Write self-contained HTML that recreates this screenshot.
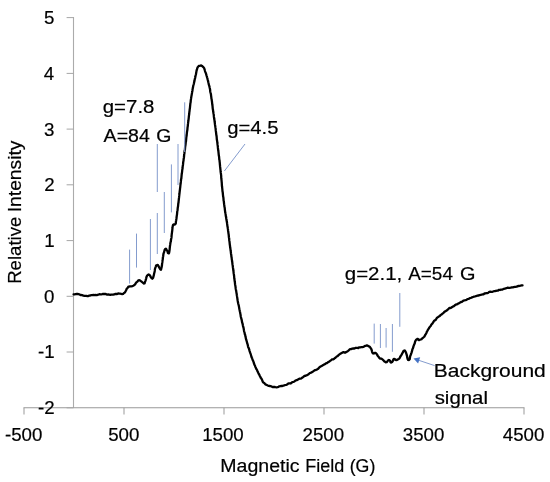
<!DOCTYPE html>
<html><head><meta charset="utf-8"><title>EPR spectrum</title>
<style>
html,body{margin:0;padding:0;background:#fff;}
svg{display:block;}
text{font-family:"Liberation Sans",sans-serif;fill:#000;}
</style></head><body>
<svg width="550" height="482" viewBox="0 0 550 482">
<rect width="550" height="482" fill="#fff"/>
<g fill="none">
<path d="M73.5 17.1V407.8" stroke="#ababab" stroke-width="1.1"/>
<path d="M23.5 407.8H524.5" stroke="#999" stroke-width="1.1"/>
<path d="M66.6 17.6H73.5M66.6 73.4H73.5M66.6 129.1H73.5M66.6 184.8H73.5M66.6 240.6H73.5M66.6 296.3H73.5M66.6 352.0H73.5M66.6 407.8H73.5" stroke="#a6a6a6" stroke-width="1"/>
<path d="M24 407.8V414.5M124 407.8V414.5M224 407.8V414.5M324 407.8V414.5M424 407.8V414.5M524 407.8V414.5" stroke="#999" stroke-width="1"/>
</g>
<path d="M73.6 294.4L74.6 294.3L75.6 294.1L76.6 294.0L77.6 294.0L78.6 294.1L79.6 294.5L80.5 295.0L81.5 295.0L82.4 295.2L83.4 295.7L84.4 295.9L85.4 295.9L86.4 295.8L87.4 296.1L88.4 296.1L89.3 295.6L90.3 295.5L91.3 295.2L92.3 295.2L93.3 295.0L94.3 295.2L95.3 295.0L96.3 295.1L97.3 295.0L98.3 294.7L99.3 294.2L100.3 294.4L101.3 294.4L102.2 294.2L103.2 293.9L104.2 294.0L105.2 293.9L106.2 294.2L107.2 294.7L108.2 294.5L109.2 294.7L110.2 294.9L111.2 294.6L112.2 294.6L113.2 294.6L114.2 294.4L115.1 293.9L116.1 294.0L117.1 294.0L118.1 293.4L119.1 293.7L120.1 293.7L121.1 293.8L122.1 294.2L123.1 293.9L123.9 293.0L124.7 292.7L125.2 291.9L125.7 291.0L126.1 290.2L126.5 289.2L127.0 288.5L127.7 287.8L128.4 286.7L129.3 286.5L130.3 286.4L131.3 286.3L132.3 286.1L133.2 285.7L134.0 285.3L134.7 284.8L135.3 284.1L136.0 282.8L136.7 282.1L137.4 281.6L138.1 280.6L138.9 280.2L139.9 280.4L140.8 281.1L141.6 281.7L142.2 282.2L143.0 282.8L143.7 283.5L144.6 283.4L144.9 282.1L145.3 281.2L145.6 280.3L145.9 279.3L146.2 278.3L146.4 277.1L146.8 276.4L147.2 275.5L147.7 275.0L148.6 274.5L149.4 274.8L150.0 275.6L150.5 276.4L151.0 277.4L151.6 278.1L152.3 278.7L153.0 278.0L153.3 277.2L153.6 275.9L153.9 274.9L154.0 274.2L154.2 273.2L154.4 272.5L154.6 271.9L154.8 270.4L154.9 269.3L155.1 268.5L155.4 267.6L155.8 266.6L156.1 265.6L156.8 265.2L157.8 265.0L158.2 265.6L158.8 266.6L159.2 267.5L159.6 268.2L160.2 269.2L161.0 269.7L161.2 269.0L161.4 268.0L161.7 266.9L161.9 265.8L162.0 264.8L162.1 263.5L162.3 262.7L162.4 261.9L162.5 260.6L162.7 260.0L162.8 258.7L162.9 258.0L163.0 256.9L163.2 256.2L163.3 255.0L163.5 253.8L163.6 253.3L164.0 252.5L164.3 251.2L164.6 250.1L165.0 249.3L165.9 248.7L166.5 249.7L166.9 250.3L167.4 251.2L167.7 252.1L167.9 253.0L168.8 253.4L169.1 252.9L169.3 251.8L169.4 251.0L169.6 249.8L169.7 248.6L169.8 247.7L169.9 246.7L170.0 245.8L170.2 244.7L170.3 243.7L170.5 242.5L170.7 241.7L170.9 241.2L171.0 239.8L171.2 238.7L171.4 238.0L171.5 237.2L171.6 235.7L171.7 234.8L171.8 233.7L172.0 232.6L172.0 232.0L172.2 231.0L172.3 229.9L172.4 228.8L172.5 228.0L172.6 226.9L172.8 225.9L173.1 224.8L173.7 224.3L174.6 224.7L175.3 224.1L175.8 223.3L175.9 222.2L176.0 221.1L176.2 220.2L176.3 219.4L176.5 218.2L176.6 217.2L176.7 216.3L176.8 215.6L177.0 214.5L177.1 213.4L177.2 212.2L177.3 211.1L177.5 210.5L177.6 209.6L177.7 208.4L177.8 207.5L178.0 206.6L178.1 205.6L178.2 204.6L178.3 203.4L178.5 202.6L178.6 201.3L178.7 200.6L178.8 199.6L178.9 198.7L179.0 197.9L179.1 196.8L179.3 195.2L179.4 194.1L179.5 193.5L179.6 192.3L179.7 191.5L179.8 190.6L180.0 189.1L180.1 188.0L180.2 187.5L180.3 186.5L180.4 185.5L180.5 184.5L180.7 183.3L180.8 182.2L180.9 181.4L181.0 180.3L181.1 179.2L181.3 178.6L181.4 177.6L181.5 176.6L181.6 175.4L181.7 174.4L181.9 173.3L182.0 172.4L182.1 171.6L182.2 170.5L182.3 169.7L182.5 168.8L182.6 168.0L182.7 166.5L182.8 165.8L183.0 164.7L183.1 163.6L183.2 162.4L183.3 161.6L183.5 160.8L183.6 159.7L183.7 158.7L183.9 157.7L184.0 157.0L184.1 155.7L184.2 154.3L184.4 153.4L184.5 152.2L184.6 151.0L184.7 150.6L184.9 150.0L185.0 148.8L185.1 147.5L185.2 146.6L185.3 146.0L185.5 144.9L185.6 143.9L185.7 142.8L185.8 141.9L186.0 141.1L186.1 140.0L186.2 138.9L186.3 137.7L186.4 136.9L186.6 135.8L186.7 135.0L186.8 133.7L186.9 132.8L187.0 131.9L187.2 130.7L187.3 130.3L187.4 129.3L187.5 128.0L187.6 127.1L187.8 126.0L187.9 124.5L188.0 123.9L188.1 123.0L188.2 122.0L188.4 120.8L188.5 119.9L188.6 119.0L188.7 118.3L188.8 117.2L188.9 116.1L189.0 115.3L189.2 114.0L189.3 112.9L189.4 111.7L189.5 111.4L189.6 110.4L189.7 109.3L189.9 108.3L190.0 107.2L190.1 106.1L190.2 105.1L190.3 104.1L190.4 103.2L190.6 102.5L190.7 101.3L190.8 100.1L191.0 99.0L191.1 98.1L191.2 97.5L191.4 96.4L191.6 95.2L191.8 94.1L192.0 93.0L192.1 92.2L192.3 91.4L192.5 90.2L192.6 89.2L192.8 88.3L193.0 87.3L193.2 86.0L193.4 85.2L193.7 84.3L193.9 83.5L194.1 82.4L194.3 81.6L194.5 80.8L194.7 79.5L195.0 78.4L195.2 77.6L195.4 76.6L195.6 75.4L195.8 74.8L196.0 74.1L196.2 72.7L196.4 71.6L196.6 70.5L196.9 69.7L197.2 68.5L197.5 67.6L197.8 67.1L198.6 66.1L199.2 65.8L200.2 65.8L201.2 65.4L202.0 65.9L202.8 66.7L203.4 67.1L203.9 67.8L204.3 68.6L204.7 69.8L205.0 71.1L205.3 71.9L205.6 72.5L205.9 73.4L206.2 74.4L206.5 75.5L206.8 76.4L207.1 77.5L207.4 78.4L207.6 79.3L207.9 80.3L208.1 81.3L208.3 82.3L208.6 83.4L208.8 84.6L209.1 85.4L209.3 86.1L209.5 86.8L209.7 88.0L209.9 88.6L210.1 89.7L210.2 91.2L210.4 92.2L210.6 92.9L210.8 93.6L211.0 94.8L211.1 95.8L211.3 97.2L211.4 98.5L211.6 99.1L211.7 99.7L211.8 100.6L212.0 101.8L212.1 102.8L212.2 103.7L212.3 104.8L212.5 105.7L212.6 107.1L212.7 108.2L212.8 109.1L213.0 109.8L213.1 110.9L213.2 111.8L213.4 112.7L213.5 113.7L213.7 114.4L213.8 115.5L213.9 116.9L214.1 117.8L214.2 118.8L214.4 119.9L214.5 120.4L214.6 121.5L214.8 122.7L214.9 123.8L215.0 124.7L215.2 125.9L215.3 126.7L215.4 127.4L215.6 128.5L215.7 129.8L215.8 130.7L215.9 131.3L216.1 132.9L216.2 133.9L216.3 134.9L216.5 135.6L216.6 136.5L216.7 137.5L216.8 139.1L216.9 139.7L217.1 140.9L217.2 141.5L217.3 142.5L217.4 143.2L217.5 144.4L217.7 145.7L217.8 146.4L217.9 147.7L218.0 148.6L218.1 149.3L218.2 150.3L218.4 151.4L218.5 152.4L218.6 153.3L218.7 154.3L218.8 155.3L219.0 156.2L219.1 157.1L219.2 158.4L219.3 159.6L219.5 160.2L219.6 161.3L219.7 162.2L219.8 163.2L219.9 164.5L220.0 165.4L220.1 166.7L220.2 167.3L220.3 168.4L220.4 169.3L220.5 170.2L220.6 171.5L220.7 172.4L220.9 173.5L221.0 174.3L221.1 175.1L221.2 176.3L221.2 177.4L221.3 178.5L221.4 179.2L221.5 180.2L221.6 181.0L221.7 182.3L221.8 183.0L221.8 183.9L221.9 185.3L222.0 186.5L222.1 187.0L222.2 188.0L222.3 189.0L222.4 190.0L222.5 191.3L222.7 192.1L222.8 193.1L222.9 194.3L223.0 195.1L223.1 196.3L223.3 197.0L223.4 197.8L223.5 198.9L223.6 200.5L223.8 201.2L223.9 202.2L224.0 203.2L224.1 204.2L224.3 205.3L224.4 206.5L224.5 207.0L224.7 207.7L224.8 208.8L224.9 209.8L225.1 211.3L225.2 212.3L225.4 212.9L225.5 213.7L225.7 215.0L225.8 216.2L226.0 216.5L226.2 218.0L226.3 218.9L226.5 220.1L226.7 220.8L226.8 221.8L227.0 222.6L227.1 223.7L227.3 225.2L227.4 226.1L227.6 226.8L227.7 227.6L227.8 228.4L228.0 229.7L228.1 230.9L228.3 231.8L228.4 232.8L228.5 233.6L228.7 234.8L228.8 235.9L228.9 237.2L229.1 238.3L229.2 238.8L229.2 239.6L229.3 240.7L229.5 241.6L229.6 242.6L229.7 243.7L229.8 244.6L230.0 245.8L230.1 246.8L230.2 247.8L230.4 248.7L230.5 249.5L230.6 250.5L230.8 251.6L230.9 252.6L231.0 253.7L231.2 254.6L231.3 255.4L231.4 256.6L231.6 257.4L231.7 258.4L231.8 259.5L232.0 260.2L232.1 261.6L232.3 262.6L232.4 263.6L232.5 264.5L232.7 265.4L232.8 266.3L232.9 267.4L233.1 268.4L233.2 269.5L233.3 270.3L233.5 271.5L233.6 272.6L233.7 273.5L233.9 274.4L234.0 275.5L234.1 276.2L234.2 277.5L234.3 278.6L234.5 279.6L234.6 280.5L234.7 281.3L234.9 282.4L235.0 283.6L235.1 284.5L235.3 285.4L235.4 286.1L235.6 287.5L235.7 288.7L235.9 289.6L236.1 290.4L236.2 291.1L236.4 292.4L236.5 293.2L236.7 293.8L236.8 295.2L237.0 295.9L237.1 296.9L237.3 298.1L237.5 299.5L237.6 300.2L237.8 301.3L238.0 302.6L238.2 303.6L238.4 304.2L238.6 305.0L238.8 305.8L239.0 306.9L239.2 308.1L239.4 309.2L239.6 310.1L239.8 311.2L240.0 311.9L240.2 313.0L240.4 314.1L240.6 315.1L240.7 316.2L240.9 317.0L241.1 317.8L241.4 318.9L241.6 319.6L241.8 320.4L242.0 321.8L242.3 322.8L242.5 323.7L242.7 324.3L242.9 325.5L243.1 326.5L243.4 327.3L243.6 328.1L243.8 329.4L244.0 330.7L244.2 331.6L244.5 332.4L244.7 333.5L244.9 334.5L245.2 334.9L245.4 336.3L245.7 337.5L245.9 338.6L246.2 339.7L246.5 340.6L246.7 341.3L247.0 342.3L247.2 343.3L247.5 344.0L247.8 345.1L248.0 346.3L248.3 347.4L248.7 348.0L249.0 348.9L249.3 349.9L249.6 351.1L249.9 351.9L250.2 353.0L250.5 353.5L250.8 354.5L251.1 355.5L251.4 356.7L251.7 357.6L252.1 358.1L252.4 359.1L252.8 360.3L253.2 361.0L253.5 361.8L253.9 363.2L254.3 364.2L254.6 365.0L255.0 365.8L255.4 366.9L255.8 367.7L256.2 368.8L256.6 369.3L257.1 370.2L257.5 371.3L258.0 372.1L258.4 373.2L258.8 374.0L259.3 374.7L259.7 375.7L260.2 376.6L260.7 377.7L261.2 378.3L261.7 379.1L262.3 380.4L262.7 381.6L263.2 382.4L263.9 382.7L264.6 383.4L265.3 384.3L266.0 384.7L266.8 385.0L267.8 385.5L268.7 385.9L269.7 386.0L270.6 386.1L271.5 386.5L272.5 387.0L273.5 386.9L274.5 387.0L275.5 387.2L276.5 387.3L277.5 387.1L278.5 386.8L279.4 386.3L280.4 386.1L281.4 385.9L282.4 386.0L283.3 385.7L284.3 385.3L285.3 385.0L286.2 384.8L287.1 384.5L288.1 383.7L289.0 383.4L289.9 383.3L290.8 383.5L291.7 382.7L292.6 382.0L293.5 381.8L294.4 381.5L295.3 380.7L296.2 380.2L297.1 380.1L298.0 379.6L298.9 379.1L299.8 378.6L300.7 378.6L301.6 378.2L302.5 377.5L303.4 376.9L304.3 376.0L305.2 375.9L306.1 375.4L307.0 375.1L307.9 374.7L308.8 374.0L309.6 373.2L310.5 373.0L311.4 372.4L312.2 371.9L313.1 371.4L313.9 370.8L314.8 370.1L315.7 370.2L316.5 369.6L317.3 369.3L318.2 368.8L319.0 367.8L319.9 366.9L320.7 366.5L321.6 365.9L322.4 365.6L323.3 365.1L324.2 364.3L325.0 364.2L325.9 363.4L326.7 363.2L327.6 362.6L328.4 362.1L329.3 361.5L330.1 360.9L330.9 360.3L331.8 359.5L332.6 359.4L333.4 359.3L334.2 358.8L335.0 358.0L335.9 357.3L336.7 356.5L337.5 356.2L338.3 355.4L339.1 354.7L339.9 354.1L340.8 353.6L341.7 353.1L342.6 352.6L343.5 352.1L344.4 352.5L345.4 352.7L346.3 351.9L347.2 351.4L348.0 350.9L348.8 350.3L349.6 349.4L350.5 349.1L351.5 349.0L352.4 348.6L353.4 348.3L354.4 348.5L355.3 348.0L356.3 347.9L357.3 347.8L358.3 348.0L359.3 347.3L360.3 347.3L361.3 347.2L362.3 347.2L363.2 346.9L364.1 346.5L365.0 345.8L366.0 345.8L366.9 345.4L367.8 345.8L368.7 346.4L369.5 346.7L370.1 347.2L370.7 348.3L371.3 349.0L371.7 350.1L372.0 351.3L372.3 352.3L372.9 353.3L373.7 353.5L374.6 352.8L375.6 353.0L376.4 353.6L377.0 354.4L377.5 355.5L378.0 356.2L378.6 356.8L379.3 357.9L380.1 358.5L381.1 358.6L382.0 359.1L382.8 359.7L383.5 360.4L384.2 361.3L385.0 361.8L385.8 362.3L386.7 362.2L387.5 361.3L387.9 360.6L388.6 360.0L389.5 360.2L390.1 360.8L390.5 362.3L391.2 362.6L392.1 362.1L392.7 361.2L393.0 360.5L393.3 359.6L394.0 358.8L394.9 359.0L395.3 359.8L396.3 360.0L397.3 359.8L398.1 359.3L398.8 358.9L399.5 358.4L400.1 357.0L400.7 356.1L401.1 355.2L401.7 354.6L402.2 353.5L402.7 352.7L403.1 351.8L403.6 350.9L404.6 350.5L405.2 351.0L405.6 351.7L406.0 352.7L406.4 353.9L406.7 355.0L407.0 355.8L407.1 356.5L407.3 357.8L407.6 359.0L408.1 359.9L409.0 360.0L409.7 359.3L409.8 358.5L410.0 357.3L410.2 356.2L410.5 355.4L410.8 354.8L411.1 353.8L411.5 352.9L411.8 351.7L412.1 350.9L412.3 349.7L412.6 348.9L412.9 348.4L413.3 347.2L413.6 345.9L414.0 345.0L414.3 344.3L414.7 343.5L415.0 342.1L415.4 340.9L415.8 340.3L416.4 339.6L417.1 339.0L417.9 338.9L418.2 339.7L419.0 340.1L419.9 339.7L420.8 339.5L421.5 339.2L422.3 338.3L423.2 337.6L423.9 337.0L424.5 336.4L425.1 335.1L425.6 334.3L426.1 333.6L426.5 332.7L426.9 331.6L427.4 330.8L427.9 329.9L428.4 329.1L429.0 328.2L429.5 327.2L430.1 326.6L430.7 325.9L431.3 324.8L431.9 324.1L432.5 323.4L433.0 322.4L433.6 321.7L434.1 320.7L434.8 320.4L435.5 320.0L436.1 319.2L436.8 318.0L437.6 317.4L438.4 316.8L439.3 316.3L440.0 315.8L440.8 314.8L441.6 314.5L442.3 313.7L443.1 313.3L443.9 312.4L444.7 311.6L445.5 311.2L446.3 310.8L447.1 310.1L447.9 309.5L448.7 308.7L449.6 307.9L450.5 308.0L451.4 307.6L452.2 306.9L453.1 306.4L453.9 306.1L454.8 305.3L455.7 304.7L456.6 304.4L457.5 304.1L458.4 303.3L459.3 303.2L460.1 302.5L461.0 302.0L461.9 301.9L462.8 301.2L463.7 300.5L464.6 300.3L465.5 300.2L466.5 299.9L467.4 299.2L468.3 299.0L469.2 298.6L470.2 298.0L471.1 297.8L472.0 297.4L473.0 297.0L474.0 296.7L474.9 296.5L475.9 296.2L476.8 295.8L477.8 295.5L478.7 295.5L479.7 295.1L480.6 294.9L481.6 294.7L482.5 294.4L483.5 294.3L484.5 293.5L485.4 293.4L486.4 293.1L487.3 293.2L488.3 292.8L489.3 291.8L490.2 291.7L491.2 291.9L492.2 291.8L493.2 291.5L494.2 291.2L495.1 291.0L496.1 290.9L497.1 290.7L498.1 290.5L499.1 289.8L500.0 290.0L501.0 289.6L502.0 289.7L503.0 289.2L503.9 288.8L504.9 288.7L505.8 288.3L506.8 288.0L507.8 287.7L508.8 287.8L509.8 287.8L510.7 287.7L511.7 287.4L512.7 287.4L513.7 287.1L514.7 286.9L515.7 286.8L516.7 286.7L517.6 286.2L518.6 286.0L519.6 285.8L520.6 285.6L521.5 285.3L522.5 285.4" fill="none" stroke="#000" stroke-width="2.3" stroke-linejoin="round" stroke-linecap="round"/>
<g stroke="#849cce" stroke-width="1" fill="none">
<path d="M129.6 249.6V283.6M136.5 233.6V267.6M150.4 219V270M157.3 213V254M157.3 144V192M164.3 192V233M171.4 164.4V212.4M178 144V185M184.7 102.3V152"/>
<path d="M374.2 323.6V343.6M380.4 324V348M386.1 328V347.6M392.4 324V351.8M399.8 293V326.8"/>
<path d="M224.4 171L245 144"/>
<path d="M434.6 365.6L416 359.4"/>
</g>
<path d="M413.5 358.6L420.2 357.3L418.1 363.4Z" fill="#4472c4"/>
<g font-size="18.7" stroke="#000" stroke-width="0.2">
<text x="44.05" y="24.1">5</text>
<text x="43.80" y="79.8">4</text>
<text x="44.05" y="135.5">3</text>
<text x="44.30" y="191.0">2</text>
<text x="44.30" y="246.7">1</text>
<text x="44.05" y="302.5">0</text>
<text x="38.05" y="358.3">-1</text>
<text x="38.05" y="414.0">-2</text>
<text x="4.95" y="440.8">-500</text>
<text x="108.17" y="440.8">500</text>
<text x="202.18" y="440.8">1500</text>
<text x="302.52" y="440.8">2500</text>
<text x="402.82" y="440.8">3500</text>
<text x="502.77" y="440.8">4500</text>
<text y="471.5"><tspan x="220.33" textLength="79.21" lengthAdjust="spacingAndGlyphs">Magnetic</tspan> <tspan x="305.36" textLength="39.02" lengthAdjust="spacingAndGlyphs">Field</tspan> <tspan x="349.65" textLength="25.69" lengthAdjust="spacingAndGlyphs">(G)</tspan></text>
<text transform="translate(21.2 0) rotate(-90)" y="0"><tspan x="-283.79" textLength="67.05" lengthAdjust="spacingAndGlyphs">Relative</tspan> <tspan x="-212.24" textLength="71.60" lengthAdjust="spacingAndGlyphs">Intensity</tspan></text>
<text y="113.3"><tspan x="102.78" textLength="51.69" lengthAdjust="spacingAndGlyphs">g=7.8</tspan></text>
<text y="141.6"><tspan x="103.60" textLength="46.24" lengthAdjust="spacingAndGlyphs">A=84</tspan> <tspan x="156.22" textLength="15.13" lengthAdjust="spacingAndGlyphs">G</tspan></text>
<text y="134"><tspan x="227.19" textLength="51.28" lengthAdjust="spacingAndGlyphs">g=4.5</tspan></text>
<text y="279.8"><tspan x="344.78" textLength="57.45" lengthAdjust="spacingAndGlyphs">g=2.1,</tspan> <tspan x="408.20" textLength="44.73" lengthAdjust="spacingAndGlyphs">A=54</tspan> <tspan x="460.10" textLength="15.48" lengthAdjust="spacingAndGlyphs">G</tspan></text>
<text y="376.5"><tspan x="433.71" textLength="112.07" lengthAdjust="spacingAndGlyphs">Background</tspan></text>
<text y="403.9"><tspan x="434.65" textLength="53.32" lengthAdjust="spacingAndGlyphs">signal</tspan></text>
</g>
</svg>
</body></html>
